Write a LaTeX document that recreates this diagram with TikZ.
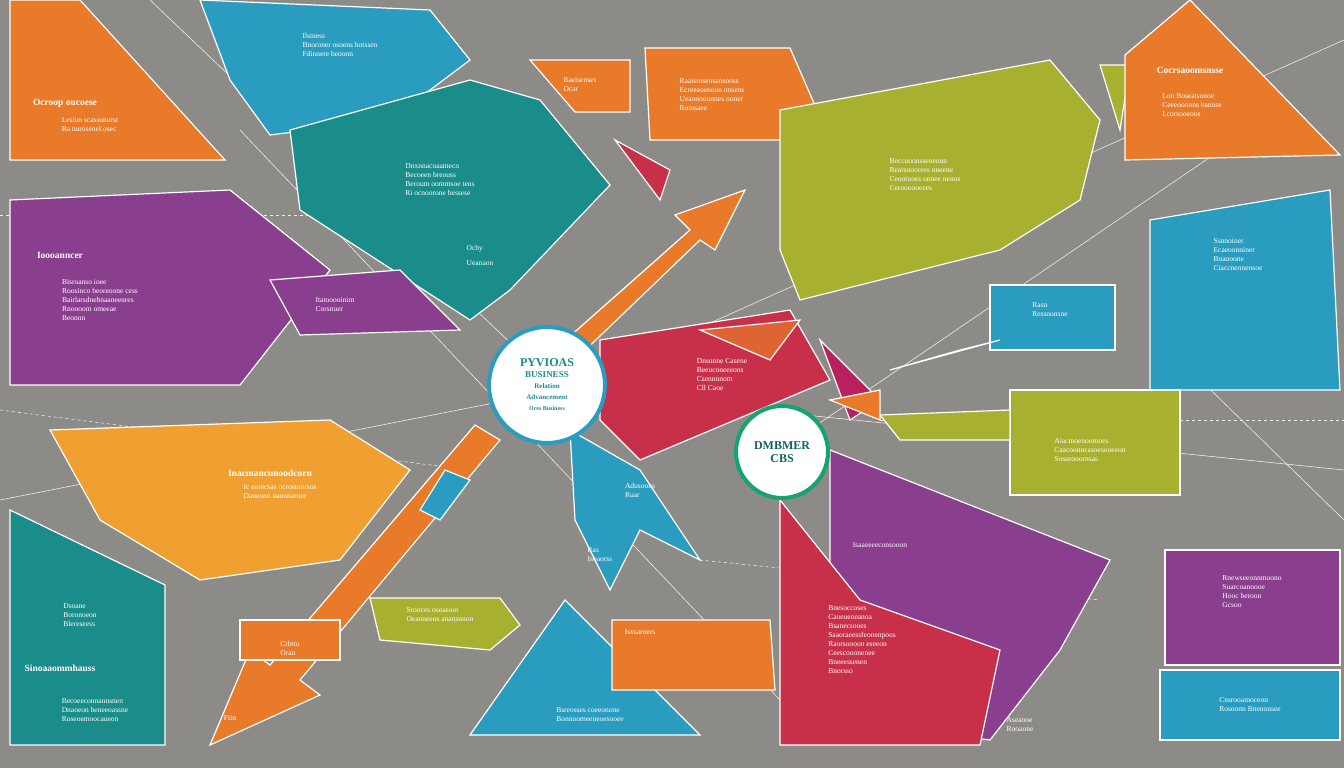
\documentclass[tikz,border=0pt]{standalone}
\usepackage{fontspec}
\setmainfont{Liberation Serif}
\begin{document}
\begin{tikzpicture}[x=1pt,y=-1pt,
  sh/.style={draw=white,line width=1.2pt},
  ln/.style={draw=white!85!gray,line width=0.6pt},
  dl/.style={draw=white!85!gray,line width=0.6pt,dashed},
  tx/.style={font=\fontsize{7.5}{9}\selectfont,text=white,align=left,inner sep=1pt},
  tt/.style={font=\fontsize{9.5}{11}\selectfont\bfseries,text=white,align=left,inner sep=1pt}]
\definecolor{bg}{HTML}{8C8B88}
\definecolor{org}{HTML}{E87A2A}
\definecolor{yel}{HTML}{F0A030}
\definecolor{tea}{HTML}{1A8C8A}
\definecolor{blu}{HTML}{2A9CC0}
\definecolor{pur}{HTML}{8A3E8E}
\definecolor{oli}{HTML}{A8B030}
\definecolor{red}{HTML}{C8304A}
\definecolor{mag}{HTML}{B8205E}
\fill[bg] (0,0) rectangle (1344,768);
\useasboundingbox (0,0) rectangle (1344,768);
% lines
\draw[ln] (150,0) -- (560,390) -- (1344,40);
\draw[ln] (0,500) -- (560,390) -- (1344,470);
\draw[ln] (240,130) -- (780,700);
\draw[dl] (0,410) -- (470,470);
\draw[dl] (0,215) -- (330,215);
\draw[dl] (880,420) -- (1344,420);
\draw[dl] (700,560) -- (1100,600);
\draw[ln] (780,450) -- (1250,130);
\draw[ln] (1180,360) -- (1344,520);
% shapes
\filldraw[sh,fill=org] (10,0) -- (80,0) -- (225,160) -- (10,160) -- cycle;
\filldraw[sh,fill=blu] (200,0) -- (430,10) -- (470,60) -- (390,120) -- (270,135) -- (230,80) -- cycle;
\filldraw[sh,fill=tea] (290,130) -- (470,80) -- (540,100) -- (610,185) -- (510,290) -- (470,320) -- (300,210) -- cycle;
\filldraw[sh,fill=pur] (10,200) -- (230,190) -- (330,270) -- (240,385) -- (10,385) -- cycle;
\filldraw[sh,fill=pur] (270,280) -- (400,270) -- (460,330) -- (300,335) -- cycle;
\filldraw[sh,fill=yel] (50,430) -- (330,420) -- (410,470) -- (340,560) -- (200,580) -- (100,520) -- cycle;
\filldraw[sh,fill=tea] (10,510) -- (165,585) -- (165,745) -- (10,745) -- cycle;
\filldraw[sh,fill=org] (530,60) -- (630,60) -- (630,112) -- (575,112) -- cycle;
\filldraw[sh,fill=org] (645,48) -- (790,48) -- (830,140) -- (650,140) -- cycle;
\filldraw[sh,fill=red] (615,140) -- (670,170) -- (660,200) -- cycle;
\filldraw[sh,fill=oli] (780,110) -- (1050,60) -- (1100,120) -- (1080,200) -- (1000,250) -- (800,300) -- (780,250) -- cycle;
\filldraw[sh,fill=oli] (1100,65) -- (1130,65) -- (1120,130) -- cycle;
\filldraw[sh,fill=org] (1125,55) -- (1190,0) -- (1340,155) -- (1125,160) -- cycle;
\filldraw[sh,fill=blu] (1150,220) -- (1330,190) -- (1340,390) -- (1150,390) -- cycle;
\filldraw[sh,fill=blu] (990,285) rectangle (1115,350);
\filldraw[sh,fill=tea] (890,370) -- (1000,340) -- (960,350) -- cycle;
\filldraw[sh,fill=oli] (1010,390) rectangle (1180,495);
\filldraw[sh,fill=oli] (880,415) -- (1010,410) -- (1010,440) -- (900,440) -- cycle;
\filldraw[sh,fill=red] (600,340) -- (790,310) -- (830,380) -- (640,460) -- (600,420) -- cycle;
\filldraw[sh,fill=org!70!red] (700,330) -- (800,320) -- (770,360) -- cycle;
\filldraw[sh,fill=mag] (820,340) -- (880,400) -- (850,420) -- cycle;
\filldraw[sh,fill=org] (830,400) -- (880,390) -- (880,420) -- cycle;
\filldraw[sh,fill=org] (560,345) -- (690,230) -- (675,215) -- (745,190) -- (715,250) -- (700,240) -- (575,360) -- cycle;
\filldraw[sh,fill=org] (475,425) -- (500,440) -- (300,680) -- (320,695) -- (210,745) -- (250,650) -- (270,665) -- cycle;
\filldraw[sh,fill=blu] (445,470) -- (470,480) -- (440,520) -- (420,510) -- cycle;
\filldraw[sh,fill=org] (240,620) rectangle (340,660);
\filldraw[sh,fill=blu] (570,430) -- (640,470) -- (700,560) -- (640,530) -- (610,590) -- (575,520) -- cycle;
\filldraw[sh,fill=blu] (470,735) -- (565,600) -- (700,735) -- cycle;
\filldraw[sh,fill=org] (612,620) -- (770,620) -- (775,690) -- (612,690) -- cycle;
\filldraw[sh,fill=oli] (370,598) -- (500,598) -- (520,625) -- (490,650) -- (380,640) -- cycle;
\filldraw[sh,fill=pur] (830,450) -- (1110,560) -- (1060,650) -- (990,740) -- (830,720) -- cycle;
\filldraw[sh,fill=red] (780,500) -- (860,600) -- (1000,650) -- (980,745) -- (780,745) -- cycle;
\filldraw[sh,fill=pur] (1165,550) -- (1340,550) -- (1340,665) -- (1165,665) -- cycle;
\filldraw[sh,fill=blu] (1160,670) -- (1340,670) -- (1340,740) -- (1160,740) -- cycle;
% circles
\filldraw[draw=blu,line width=4pt,fill=white] (547,385) circle (58);
\filldraw[draw=tea!80!green,line width=4pt,fill=white] (782,452) circle (46);
\node[font=\fontsize{12}{13}\selectfont\bfseries,text=tea,align=center] (c1) at (547,385) {PYVIOAS\\[-2pt]{\fontsize{9}{10}\selectfont BUSINESS}\\[-2pt]{\fontsize{7}{8}\selectfont Relation}\\[-2pt]{\fontsize{7}{8}\selectfont Advancement}\\[-2pt]{\fontsize{6}{7}\selectfont Ores Business}};
\node[font=\fontsize{12}{13}\selectfont\bfseries,text=tea!70!black,align=center] (c2) at (782,452) {DMBMER\\CBS};
% texts
\node[tt] (t1) at (65,103) {Ocroop oucoese};
\node[tx] (t1b) at (90,125) {Lesiun scassunurst\\Ba nurosenel osec};
\node[tx] (t2) at (340,45) {Ilstness\\Bnoroner osoens hotssen\\Fdinnere beoonn};
\node[tx] (t3) at (440,180) {Dnxnnacoaamecn\\Becoeen breouss\\Beroum oommsoe tens\\Ri ocnoorone bessese};
\node[tx] (t3b) at (480,255) {Ochy\\[6pt]Ueanaon};
\node[tt] (t4) at (60,255) {Ioooanncer};
\node[tx] (t4b) at (100,300) {Bisroanso ioee\\Roosinco beoreoone cess\\Bairlarsdnebnaaneenres\\Rnoooom omeeae\\Beonnn};
\node[tx] (t5) at (335,305) {Itatooooinim\\Corsnuer};
\node[tt] (t6) at (270,473) {Inacmancunoodcorn};
\node[tx] (t6b) at (280,492) {Ic eorecsas ocrostonrsos\\Daneonn oaonnaroor};
\node[tx] (t7) at (80,615) {Dsoane\\Boronoeon\\Blereseess};
\node[tt] (t7b) at (60,668) {Sinoaaommhauss};
\node[tx] (t7c) at (95,710) {Becoeeconnannsnen\\Dnaoeon beneeoassne\\Roseoemoocaueon};
\node[tx] (t8) at (580,85) {Raeisenses\\Ocar};
\node[tx] (t9) at (712,95) {Raaisrosensansooss\\Ecreeaoenoun onsens\\Ueaonoounnes ooner\\Roinsaee};
\node[tx] (t10) at (925,175) {Beccuoonsseneonn\\Rearsooorees oneene\\Ceootooes onnee nenos\\Ceroooooeees};
\node[tt] (t11) at (1190,70) {Cocrsaoomsnsse};
\node[tx] (t11b) at (1192,105) {Lon Boseatsnnoe\\Ceeeoonons bannse\\Lcorsooeoos};
\node[tx] (t12) at (1238,255) {Ssnnoiner\\Ecaeoonniner\\Bnaooone\\Ciaccnennensoe};
\node[tx] (t13) at (1050,310) {Rasn\\Ressnonsne};
\node[tx] (t14) at (1090,450) {Aiacmoenoomoes\\Caacoonncasoesooeeon\\Sosseooornsas};
\node[tx] (t15) at (722,375) {Dnsonne Casene\\Beeuconeeeons\\Csennnnom\\Cll Caoe};
\node[tx] (t16) at (640,490) {Adusoons\\Ruar};
\node[tx] (t16b) at (600,555) {Ras\\Isoaorss};
\node[tx] (t17) at (440,615) {Srooces osoasoot\\Oeaoneeos anansnnon};
\node[tx] (t18) at (640,632) {Isxsaroers};
\node[tx] (t19) at (590,715) {Bsreosses coeeonone\\Bonnoomeeneoesooee};
\node[tx] (t20) at (290,648) {Crbtto\\Oran};
\node[tx] (t21) at (230,718) {Ftin};
\node[tx] (t22) at (880,545) {Isaaeeeeconsooon};
\node[tx] (t23) at (862,640) {Bnesoccoses\\Caoeueneanoa\\Bsanecsooes\\Saaoraeessfeonenpoos\\Raorsoooon eseeon\\Ceescooonenee\\Bneeessenen\\Bnorsso};
\node[tx] (t24) at (1252,592) {Rnewseeonnmoono\\Suarcoanoooe\\Hooc beroon\\Gcsoo};
\node[tx] (t25) at (1250,705) {Cnsrooamoceon\\Rosoonn Bnenonsee};
\node[tx] (t26) at (1020,725) {Aseaooe\\Rooaone};
\end{tikzpicture}
\end{document}
